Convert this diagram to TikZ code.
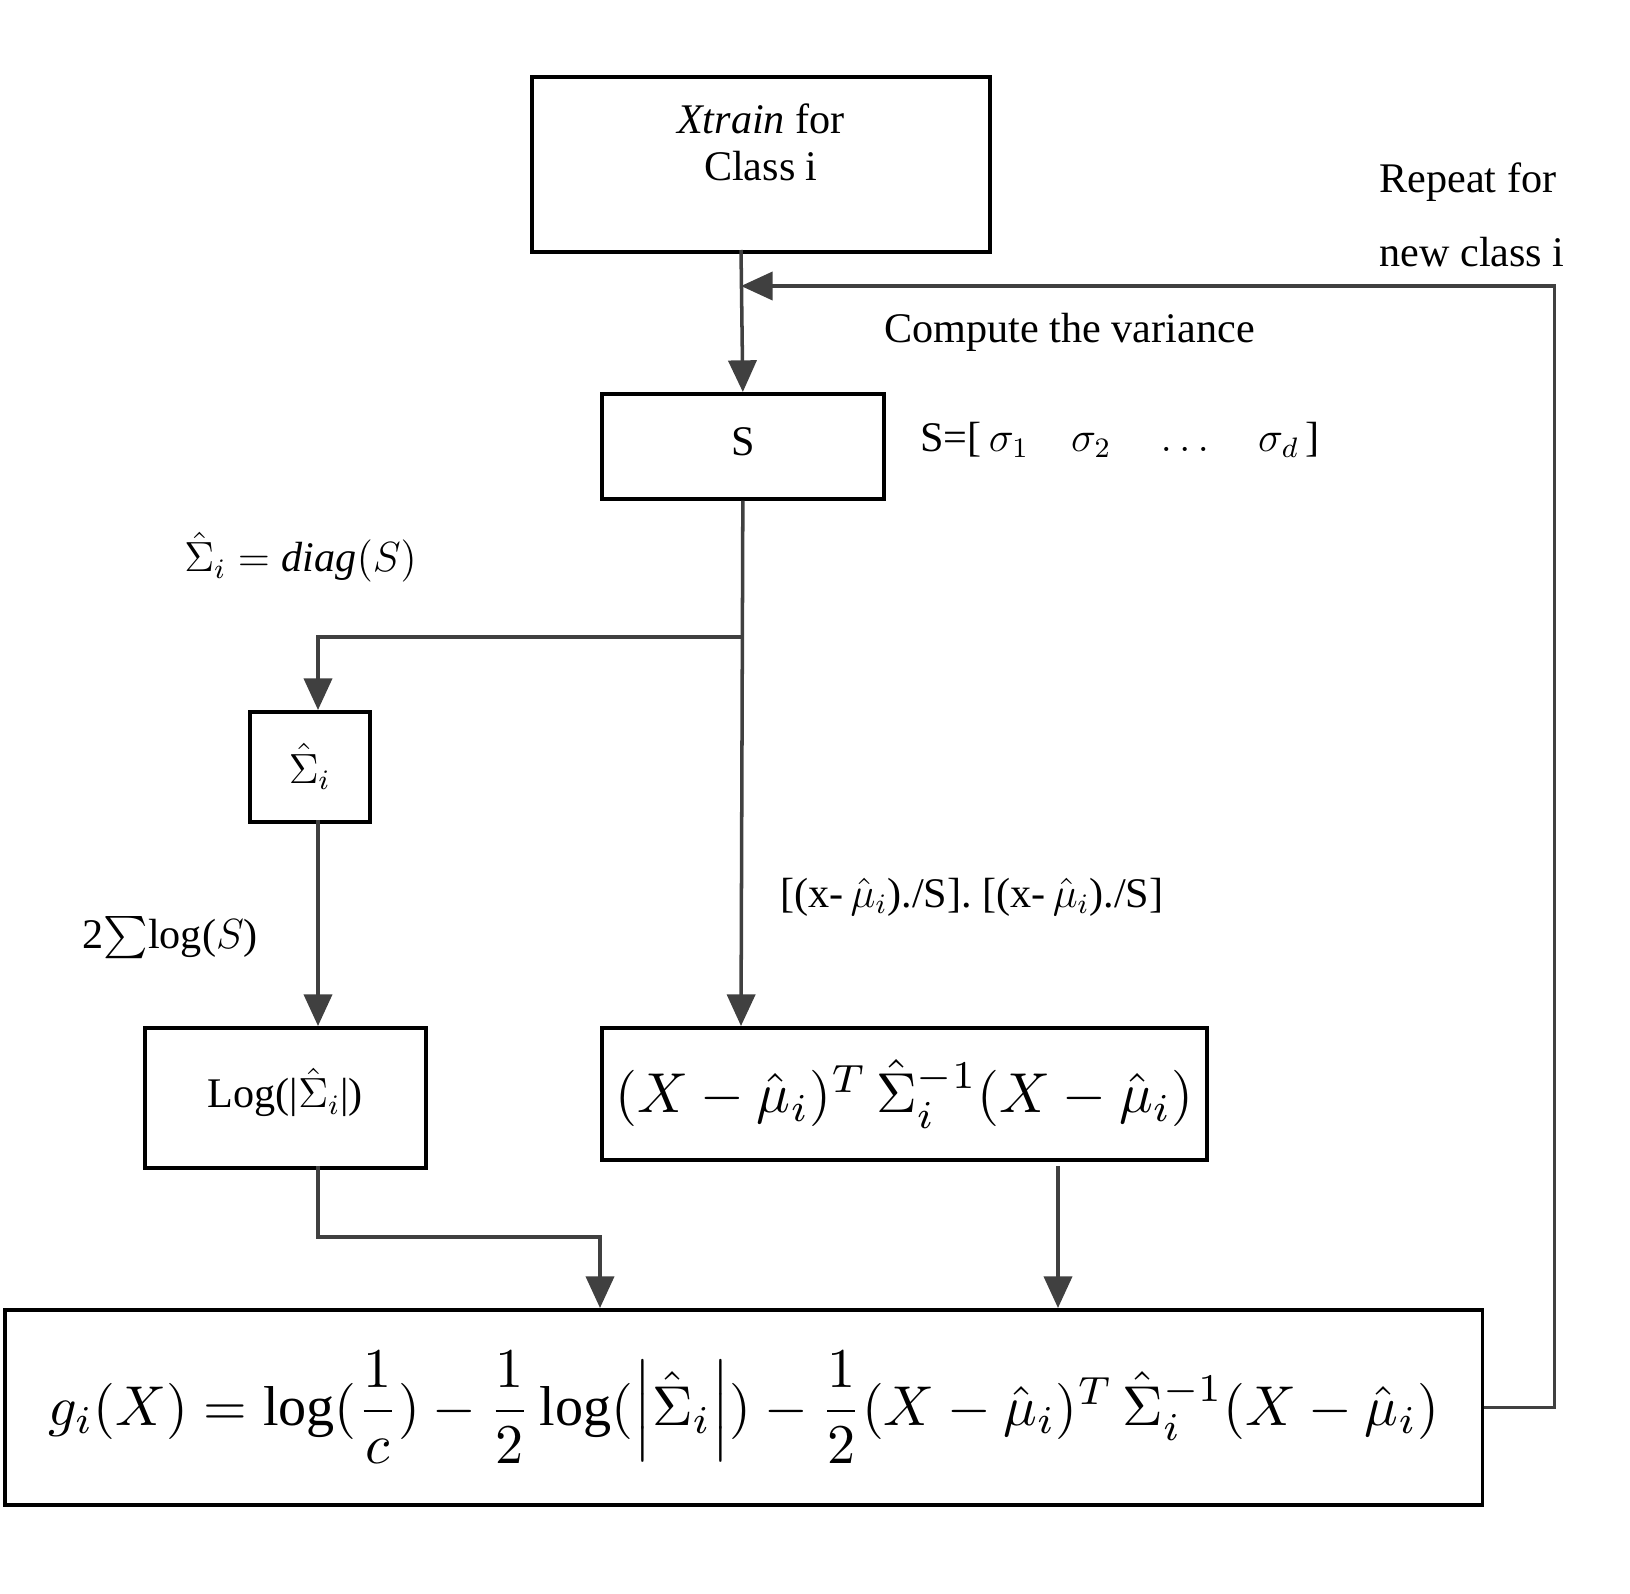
\documentclass[tikz,border=0pt]{standalone}
\usepackage{fontspec}
\usepackage{amsmath,graphicx}
\setmainfont{Liberation Serif}
\usetikzlibrary{arrows.meta}
\begin{document}
\begin{tikzpicture}[x=0.01cm,y=-0.01cm,
  bx/.style={draw,line width=1pt,inner sep=0pt,anchor=north west},
  con/.style={draw=black!75,line width=1pt},
  arr/.style={con,-{Triangle[length=9pt,width=8pt]}},
  lab/.style={font=\fontsize{12}{15}\selectfont}]
\useasboundingbox (0,0) rectangle (1630,1594);
\node (x) [bx,minimum width=4.58cm,minimum height=1.75cm,align=center,lab] at (530,75) {\raisebox{0.45cm}{\shortstack{\textit{Xtrain} for\\[2pt]Class i}}};
\node (s) [bx,minimum width=2.82cm,minimum height=1.05cm,lab] at (600,392) {\raisebox{0.1cm}{S}};
\node (si) [bx,minimum width=1.2cm,minimum height=1.1cm,lab] at (248,710) {$\hat\Sigma_i$};
\node (lg) [bx,minimum width=2.81cm,minimum height=1.4cm,lab] at (143,1026) {\raisebox{0.2cm}{Log(|$\hat\Sigma_i$|)}};
\node (q) [bx,minimum width=6.05cm,minimum height=1.32cm] at (600,1026) {\scalebox{1.6}{$(X-\hat\mu_i)^T\,\hat\Sigma_i^{-1}(X-\hat\mu_i)$}};
\node (g) [bx,minimum width=14.77cm,minimum height=1.95cm] at (3,1308) {\resizebox{13.9cm}{!}{$g_i(X)=\log(\dfrac{1}{c})-\dfrac{1}{2}\log(\left|\hat\Sigma_i\right|)-\dfrac{1}{2}(X-\hat\mu_i)^T\,\hat\Sigma_i^{-1}(X-\hat\mu_i)$}};
\coordinate (fb1) at ([xshift=0.7cm]g.east);
\coordinate (fb3) at (741,286);
\coordinate (br) at (741,637);
\draw[arr] (741,250) -- (s.north);
\draw[arr] (g.east) -- (fb1) |- (fb3);
\draw[arr] (s.south) -- (741,1026);
\draw[arr] (br) -- (318,637) -- (318,710);
\draw[arr] (318,820) -- (318,1026);
\draw[arr] (318,1166) -- (318,1237) -- (600,1237) -- (600,1308);
\draw[arr] (1058,1166) -- (1058,1308);
\node[lab,anchor=west,align=left] at (1367,215) {Repeat for\\[6pt]new class i};
\node[lab,anchor=west] at (872,332) {Compute the variance};
\node[lab,anchor=west] at (908,440) {S=[$\,\sigma_1\quad\sigma_2\quad\ldots\quad\sigma_d$\,]};
\node[lab,anchor=west] at (172,557) {$\hat\Sigma_i = \mathit{diag}(S)$};
\node[lab,anchor=west] at (70,938) {2$\sum$log($S$)};
\node[lab,anchor=west] at (768,897) {[(x-\,$\hat\mu_i$)./S]. [(x-\,$\hat\mu_i$)./S]};
\end{tikzpicture}
\end{document}
